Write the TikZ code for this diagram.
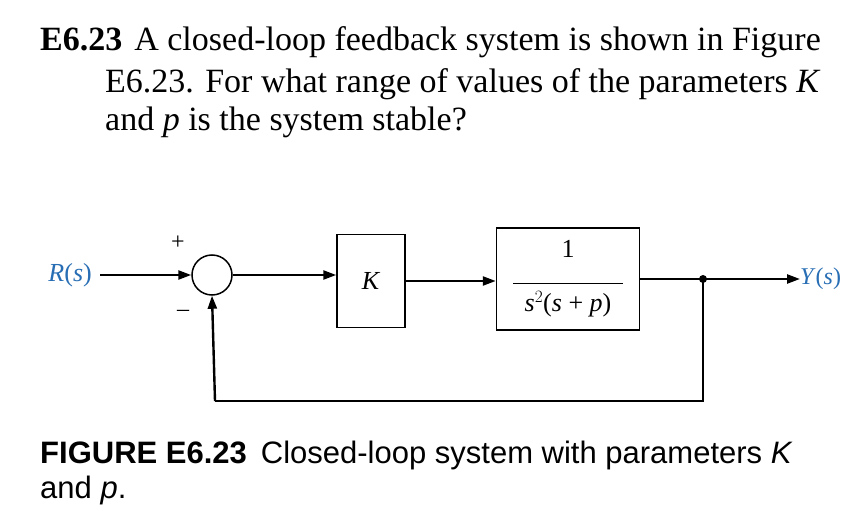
\documentclass[tikz,border=0pt]{standalone}
\usepackage{fontspec}
\setmainfont{Liberation Serif}
\setsansfont{Liberation Sans}
\usetikzlibrary{arrows.meta}
\definecolor{sblue}{RGB}{40,110,180}
\begin{document}
\begin{tikzpicture}[x=1pt,y=-1pt,
  blk/.style={draw,line width=1.5pt,inner sep=0pt},
  sig/.style={line width=2.4pt,-{Triangle[length=13pt,width=9pt]}},
  ln/.style={line width=2.4pt},
  txt/.style={anchor=west,inner sep=0pt,font=\fontsize{34}{38}\selectfont}]
\useasboundingbox[fill=white] (0,0) rectangle (860,529);
\node[txt] (l1) at (40,42) {\textbf{E6.23}\hspace{12pt}A closed-loop feedback system is shown in Figure};
\node[txt] (l2) at (105,84) {E6.23. For what range of values of the parameters \textit{K}};
\node[txt] (l3) at (105,122) {and \textit{p} is the system stable?};
\node[anchor=east,inner sep=0pt,text=sblue,font=\fontsize{26}{30}\selectfont] (r) at (92,275) {\textit{R}(\textit{s})};
\node[draw,circle,line width=1.5pt,minimum size=40pt,inner sep=0pt] (sum) at (212,275) {};
\node[font=\fontsize{24}{26}\selectfont] (plus) at (178,243) {+};
\node[font=\fontsize{24}{26}\selectfont] (minus) at (183,313) {–};
\node[blk,minimum width=68pt,minimum height=93pt,font=\fontsize{26}{30}\selectfont] (k) at (371,281) {\textit{K}};
\node[blk,minimum width=143pt,minimum height=102pt,font=\fontsize{26}{30}\selectfont] (g) at (568,279) {\begin{tabular}{@{}c@{}}1\\[-4pt]\rule{110pt}{1pt}\\[-2pt]\textit{s}$^2$(\textit{s} + \textit{p})\end{tabular}};
\node[anchor=west,inner sep=0pt,text=sblue,font=\fontsize{24}{28}\selectfont] (y) at (800,279) {\textit{Y}(\textit{s})};
\coordinate (tap) at (703,279);
\coordinate (bl) at (703,401);
\coordinate (br) at (215,401);
\draw[sig] (r.east) ++(8,0) -- (sum.west);
\draw[sig] (sum.east) -- (k.west |- sum.east);
\draw[sig] (k.east) -- (g.west |- k.east);
\draw[sig] (g.east) -- (y.west);
\fill (tap) circle (4pt);
\draw[ln] (tap) -- (bl) -- (br);
\draw[sig] (br) -- (sum.south);
\node[anchor=west,inner sep=0pt,font=\sffamily\fontsize{31}{36}\selectfont] (cap) at (40,455) {\textbf{FIGURE E6.23}\hspace{14pt}Closed-loop system with parameters \textit{K}};
\node[anchor=west,inner sep=0pt,font=\sffamily\fontsize{31}{36}\selectfont] (cap2) at (40,490) {and \textit{p}.};
\end{tikzpicture}
\end{document}
